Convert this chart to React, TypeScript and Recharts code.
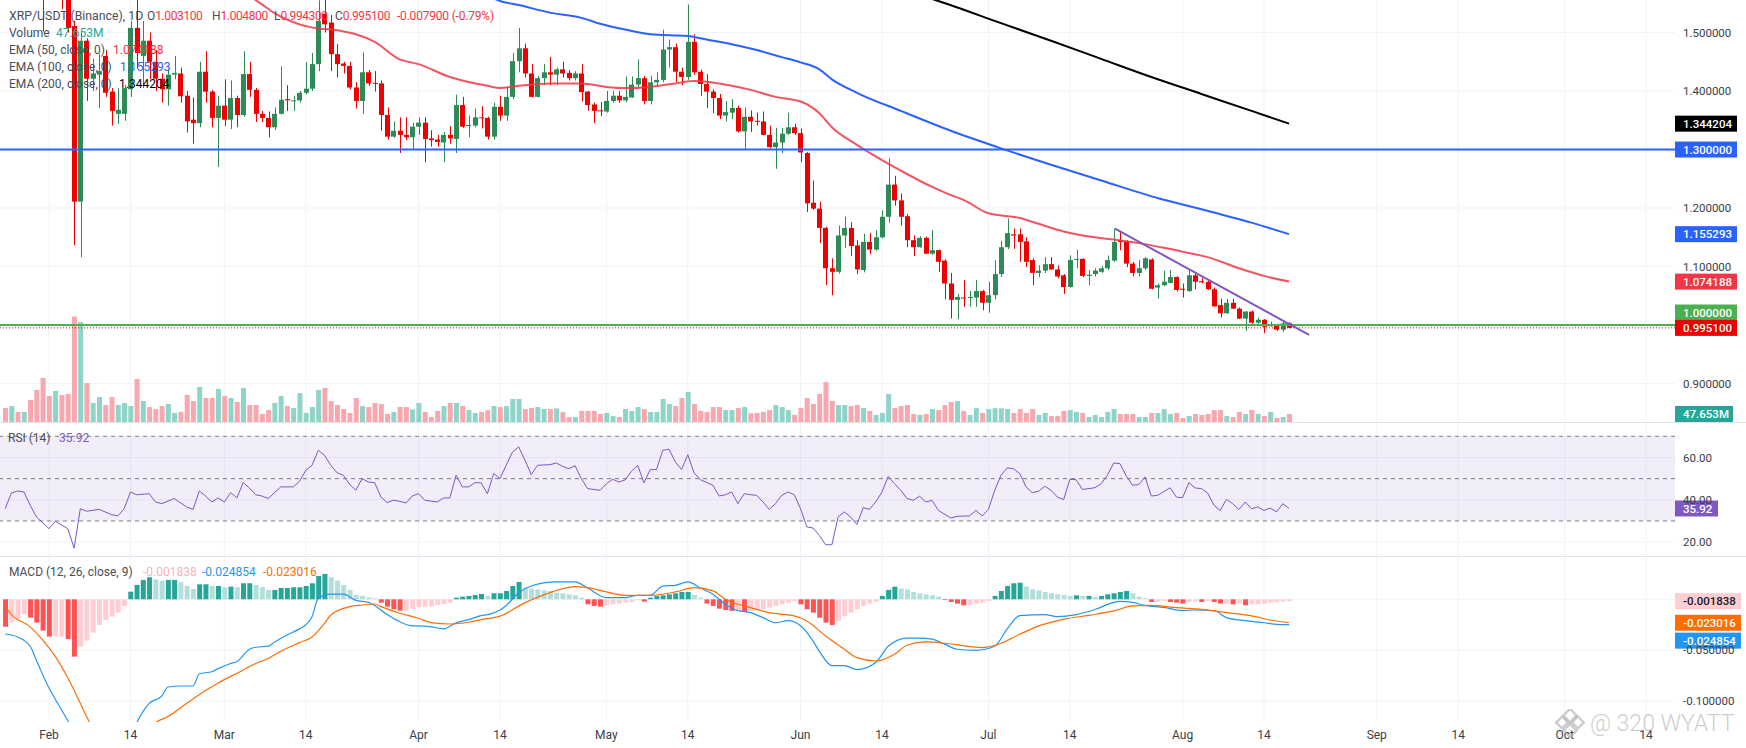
import React from 'react';
import {
  ComposedChart, Bar, Line, XAxis, YAxis, CartesianGrid, ReferenceLine, ReferenceArea, Cell,
} from 'recharts';

// ---------------- data ----------------
const FIRST_DAY = -7; // first candle = 25 Jan, days counted from 1 Feb

const OPEN = [
  1.80, 1.77, 1.81, 1.72, 1.76, 1.68, 1.63, 1.60, 1.58, 1.64, 1.62,
  1.511, 1.211, 1.486, 1.421, 1.428, 1.46, 1.399, 1.361, 1.361, 1.403,
  1.508, 1.46, 1.486, 1.45, 1.421, 1.403, 1.428, 1.43, 1.392, 1.351,
  1.345, 1.433, 1.399, 1.354, 1.375, 1.351, 1.388, 1.359, 1.429, 1.402,
  1.361, 1.354, 1.338, 1.361, 1.386, 1.383, 1.384, 1.397, 1.404, 1.446,
  1.532, 1.517, 1.463, 1.447, 1.443, 1.406, 1.383, 1.432, 1.414, 1.413,
  1.359, 1.322, 1.332, 1.325, 1.321, 1.339, 1.346, 1.319, 1.317, 1.312,
  1.325, 1.318, 1.376, 1.340, 1.341, 1.355, 1.354, 1.322, 1.373, 1.358,
  1.39, 1.451, 1.473, 1.43, 1.39, 1.422, 1.432, 1.428, 1.437, 1.431,
  1.422, 1.43, 1.399, 1.377, 1.367, 1.365, 1.383, 1.392, 1.384, 1.389,
  1.411, 1.422, 1.383, 1.415, 1.419, 1.471, 1.475, 1.433, 1.424, 1.484,
  1.433, 1.412, 1.399, 1.388, 1.358, 1.363, 1.371, 1.331, 1.356, 1.349,
  1.348, 1.325, 1.304, 1.312, 1.327, 1.338, 1.328, 1.294, 1.209, 1.199,
  1.166, 1.097, 1.091, 1.153, 1.166, 1.136, 1.094, 1.142, 1.129, 1.150,
  1.185, 1.240, 1.213, 1.186, 1.145, 1.133, 1.149, 1.122, 1.128, 1.110,
  1.071, 1.043, 1.047, 1.046, 1.047, 1.058, 1.038, 1.051, 1.087, 1.133,
  1.155, 1.155, 1.143, 1.111, 1.089, 1.093, 1.104, 1.095, 1.085, 1.065,
  1.112, 1.113, 1.084, 1.087, 1.091, 1.097, 1.110, 1.145, 1.143, 1.105,
  1.089, 1.097, 1.112, 1.064, 1.068, 1.072, 1.082, 1.062, 1.058, 1.085,
  1.075, 1.074, 1.061, 1.034, 1.020, 1.038, 1.028, 1.011, 1.023, 1.004,
  1.009, 0.998, 1.001, 0.992, 1.0031,
];
const HIGH = [
  1.84, 1.83, 1.82, 1.78, 1.77, 1.70, 1.66, 1.62, 1.66, 1.67, 1.63,
  1.52, 1.50, 1.49, 1.455, 1.463, 1.47, 1.405, 1.405, 1.41, 1.52,
  1.56, 1.52, 1.50, 1.47, 1.43, 1.438, 1.46, 1.44, 1.40, 1.389,
  1.45, 1.468, 1.402, 1.392, 1.42, 1.418, 1.392, 1.468, 1.45, 1.405,
  1.366, 1.365, 1.372, 1.442, 1.41, 1.392, 1.40, 1.449, 1.465, 1.555,
  1.56, 1.53, 1.48, 1.45, 1.45, 1.415, 1.466, 1.436, 1.434, 1.418,
  1.372, 1.348, 1.355, 1.355, 1.346, 1.355, 1.355, 1.333, 1.325, 1.33,
  1.34, 1.394, 1.39, 1.358, 1.37, 1.374, 1.356, 1.38, 1.392, 1.407,
  1.465, 1.508, 1.481, 1.446, 1.426, 1.446, 1.458, 1.44, 1.45, 1.436,
  1.434, 1.446, 1.40, 1.38, 1.381, 1.40, 1.40, 1.40, 1.425, 1.425,
  1.454, 1.426, 1.426, 1.432, 1.505, 1.488, 1.481, 1.44, 1.548, 1.497,
  1.437, 1.429, 1.403, 1.395, 1.383, 1.386, 1.375, 1.372, 1.367, 1.363,
  1.365, 1.341, 1.337, 1.337, 1.363, 1.344, 1.336, 1.296, 1.247, 1.211,
  1.168, 1.114, 1.170, 1.185, 1.176, 1.145, 1.156, 1.157, 1.162, 1.196,
  1.285, 1.255, 1.225, 1.19, 1.153, 1.152, 1.151, 1.162, 1.129, 1.112,
  1.089, 1.053, 1.077, 1.058, 1.077, 1.060, 1.074, 1.111, 1.144, 1.182,
  1.165, 1.165, 1.150, 1.114, 1.102, 1.116, 1.116, 1.102, 1.087, 1.119,
  1.129, 1.114, 1.094, 1.097, 1.101, 1.119, 1.165, 1.159, 1.145, 1.108,
  1.111, 1.116, 1.114, 1.071, 1.093, 1.094, 1.083, 1.071, 1.094, 1.088,
  1.081, 1.077, 1.064, 1.045, 1.045, 1.045, 1.030, 1.024, 1.025, 1.013,
  1.010, 1.006, 1.002, 1.006, 1.0048,
];
const LOW = [
  1.75, 1.74, 1.70, 1.70, 1.66, 1.60, 1.502, 1.565, 1.57, 1.54, 1.50,
  1.136, 1.116, 1.383, 1.40, 1.371, 1.39, 1.341, 1.344, 1.349, 1.39,
  1.438, 1.405, 1.42, 1.40, 1.38, 1.375, 1.42, 1.38, 1.329, 1.31,
  1.338, 1.38, 1.338, 1.27, 1.34, 1.335, 1.338, 1.356, 1.39, 1.347,
  1.347, 1.321, 1.333, 1.36, 1.366, 1.366, 1.38, 1.394, 1.40, 1.434,
  1.50, 1.434, 1.423, 1.43, 1.403, 1.37, 1.361, 1.409, 1.399, 1.332,
  1.317, 1.32, 1.294, 1.316, 1.30, 1.325, 1.278, 1.305, 1.305, 1.278,
  1.31, 1.294, 1.337, 1.321, 1.338, 1.336, 1.317, 1.317, 1.349, 1.349,
  1.386, 1.432, 1.423, 1.389, 1.389, 1.41, 1.41, 1.41, 1.423, 1.418,
  1.418, 1.382, 1.366, 1.345, 1.357, 1.363, 1.38, 1.38, 1.381, 1.388,
  1.406, 1.377, 1.377, 1.41, 1.415, 1.44, 1.415, 1.41, 1.419, 1.428,
  1.392, 1.371, 1.362, 1.352, 1.348, 1.352, 1.329, 1.299, 1.33, 1.341,
  1.324, 1.302, 1.267, 1.294, 1.325, 1.325, 1.278, 1.193, 1.197, 1.140,
  1.068, 1.051, 1.088, 1.132, 1.118, 1.087, 1.090, 1.121, 1.127, 1.148,
  1.175, 1.204, 1.170, 1.133, 1.118, 1.132, 1.121, 1.12, 1.091, 1.044,
  1.011, 1.010, 1.031, 1.031, 1.031, 1.025, 1.021, 1.044, 1.082, 1.130,
  1.130, 1.108, 1.099, 1.068, 1.082, 1.089, 1.094, 1.080, 1.053, 1.064,
  1.097, 1.082, 1.068, 1.083, 1.089, 1.094, 1.108, 1.128, 1.099, 1.083,
  1.083, 1.094, 1.061, 1.045, 1.066, 1.071, 1.057, 1.047, 1.057, 1.061,
  1.071, 1.060, 1.031, 1.013, 1.019, 1.027, 1.010, 0.990, 1.002, 1.002,
  0.986, 0.997, 0.990, 0.988, 0.9943,
];
const CLOSE = [
  1.77, 1.81, 1.72, 1.76, 1.68, 1.63, 1.60, 1.58, 1.64, 1.62, 1.508,
  1.211, 1.486, 1.421, 1.430, 1.434, 1.397, 1.366, 1.368, 1.405, 1.508,
  1.465, 1.486, 1.45, 1.421, 1.403, 1.428, 1.431, 1.391, 1.348, 1.345,
  1.433, 1.399, 1.354, 1.375, 1.351, 1.388, 1.359, 1.429, 1.402, 1.361,
  1.354, 1.338, 1.361, 1.385, 1.384, 1.384, 1.397, 1.404, 1.446, 1.52,
  1.514, 1.463, 1.446, 1.443, 1.406, 1.383, 1.432, 1.413, 1.413, 1.359,
  1.322, 1.332, 1.325, 1.321, 1.339, 1.346, 1.318, 1.316, 1.313, 1.325,
  1.319, 1.376, 1.339, 1.342, 1.355, 1.354, 1.322, 1.373, 1.358, 1.390,
  1.451, 1.473, 1.430, 1.39, 1.422, 1.432, 1.428, 1.437, 1.430, 1.422,
  1.43, 1.398, 1.376, 1.366, 1.366, 1.383, 1.392, 1.384, 1.39, 1.411,
  1.422, 1.383, 1.415, 1.419, 1.471, 1.475, 1.433, 1.424, 1.484, 1.432,
  1.412, 1.399, 1.388, 1.358, 1.364, 1.371, 1.331, 1.356, 1.348, 1.348,
  1.325, 1.304, 1.312, 1.327, 1.338, 1.328, 1.295, 1.208, 1.199, 1.166,
  1.097, 1.091, 1.153, 1.166, 1.135, 1.095, 1.142, 1.129, 1.150, 1.185,
  1.240, 1.213, 1.185, 1.145, 1.133, 1.149, 1.122, 1.128, 1.108, 1.071,
  1.043, 1.048, 1.046, 1.048, 1.058, 1.038, 1.051, 1.087, 1.133, 1.157,
  1.153, 1.142, 1.108, 1.089, 1.093, 1.104, 1.095, 1.083, 1.065, 1.111,
  1.113, 1.084, 1.086, 1.093, 1.097, 1.111, 1.142, 1.142, 1.105, 1.089,
  1.097, 1.114, 1.062, 1.068, 1.074, 1.082, 1.060, 1.061, 1.085, 1.074,
  1.073, 1.061, 1.032, 1.020, 1.038, 1.028, 1.011, 1.023, 1.004, 1.009,
  0.997, 1.001, 0.992, 1.0030, 0.9951,
];
// volume, millions
const VOLUME = [
  83, 95, 60, 60, 131, 191, 262, 155, 185, 161,
  167, 628, 596, 232, 113, 149, 101, 149, 101, 113,
  95, 256, 125, 89, 77, 95, 107, 54, 60, 161,
  125, 209, 143, 143, 197, 155, 143, 119, 203, 101,
  101, 48, 71, 113, 155, 95, 83, 173, 54, 89,
  191, 203, 125, 101, 77, 54, 143, 95, 89, 113,
  107, 48, 60, 89, 89, 75, 113, 60, 30, 66,
  95, 113, 113, 95, 71, 54, 60, 71, 95, 89,
  95, 137, 137, 77, 83, 89, 77, 77, 81, 60,
  30, 30, 66, 66, 66, 48, 54, 36, 30, 77,
  66, 89, 77, 60, 60, 137, 107, 95, 143, 179,
  107, 66, 60, 89, 89, 71, 71, 83, 89, 52,
  54, 60, 71, 101, 89, 71, 42, 83, 143, 107,
  167, 238, 125, 101, 101, 95, 101, 83, 66, 42,
  54, 167, 83, 95, 101, 48, 42, 48, 77, 71,
  101, 119, 125, 66, 42, 83, 54, 77, 83, 81,
  77, 54, 77, 54, 77, 42, 54, 36, 36, 66,
  71, 60, 54, 30, 42, 30, 60, 77, 48, 48,
  48, 30, 30, 54, 54, 77, 48, 54, 24, 36,
  48, 42, 48, 71, 71, 36, 30, 60, 48, 71,
  48, 36, 60, 24, 30, 47.653,
];
// MACD histogram per candle
const HIST = [
  -0.0268, -0.0229, -0.0196, -0.0144, -0.0180, -0.0229, -0.0307, -0.0366, -0.0366, -0.0366,
  -0.0389, -0.0562, -0.0464, -0.0405, -0.0327, -0.0252, -0.0203, -0.0170, -0.0131, -0.0065,
  0.0075, 0.0141, 0.0190, 0.0216, 0.0196, 0.0183, 0.0190, 0.0190, 0.0167, 0.0131,
  0.0101, 0.0147, 0.0147, 0.0131, 0.0131, 0.0118, 0.0124, 0.0118, 0.0157, 0.0157,
  0.0141, 0.0121, 0.0092, 0.0092, 0.0111, 0.0111, 0.0118, 0.0118, 0.0131, 0.0157,
  0.0229, 0.0248, 0.0216, 0.0183, 0.0141, 0.0092, 0.0042, 0.0033, 0.0020, 0.0010,
  -0.0033, -0.0072, -0.0098, -0.0111, -0.0111, -0.0095, -0.0078, -0.0072, -0.0072, -0.0056,
  -0.0046, -0.0033, 0.0016, 0.0026, 0.0033, 0.0042, 0.0052, 0.0033, 0.0059, 0.0059,
  0.0082, 0.0131, 0.0170, 0.0114, 0.0105, 0.0098, 0.0088, 0.0082, 0.0065, 0.0059,
  0.0049, 0.0039, 0.0016, -0.0049, -0.0065, -0.0072, -0.0059, -0.0049, -0.0042, -0.0033,
  -0.0026, -0.0010, -0.0023, 0.0016, 0.0033, 0.0039, 0.0049, 0.0059, 0.0072, 0.0072,
  0.0042, 0.0016, -0.0042, -0.0065, -0.0092, -0.0105, -0.0114, -0.0114, -0.0124, -0.0114,
  -0.0105, -0.0098, -0.0082, -0.0065, -0.0049, -0.0033, -0.0016, -0.0049, -0.0098, -0.0131,
  -0.0180, -0.0229, -0.0252, -0.0212, -0.0163, -0.0131, -0.0098, -0.0065, -0.0042, -0.0023,
  0.0033, 0.0092, 0.0124, 0.0105, 0.0098, 0.0072, 0.0059, 0.0049, 0.0039, 0.0026,
  -0.0007, -0.0026, -0.0042, -0.0059, -0.0056, -0.0042, -0.0033, -0.0016, 0.0033, 0.0082,
  0.0131, 0.0157, 0.0163, 0.0124, 0.0098, 0.0088, 0.0072, 0.0059, 0.0049, 0.0042,
  0.0033, 0.0039, 0.0033, 0.0033, 0.0026, 0.0033, 0.0049, 0.0059, 0.0072, 0.0082,
  0.0059, 0.0026, 0.0010, -0.0026, -0.0026, -0.0016, -0.0026, -0.0033, -0.0042, -0.0026,
  -0.0023, -0.0026, -0.0016, -0.0026, -0.0042, -0.0042, -0.0049, -0.0042, -0.0059, -0.0049,
  -0.0049, -0.0042, -0.0033, -0.0026, -0.0023, -0.001838,
];
// RSI: [candle index, value]
const RSI_POINTS: [number, number][] = [
  [0, 35.8], [1, 43.2], [2, 44.2], [3, 43.7], [4, 37.4], [5, 31.9], [7, 26.4], [8, 29.8], [10, 26.4], [11, 17.2],
  [12, 35.8], [13, 34.6], [15, 35.5], [17, 33.0], [18, 32.4], [19, 35.8], [20, 43.7], [21, 42.4], [23, 42.9], [24, 39.0],
  [25, 38.2], [27, 40.6], [29, 36.6], [30, 35.5], [31, 44.2], [32, 41.8], [33, 39.0], [34, 40.9], [35, 39.0], [36, 43.4],
  [37, 40.9], [38, 48.1], [39, 45.6], [40, 42.4], [41, 41.8], [42, 40.6], [44, 46.1], [46, 46.1], [47, 48.7], [48, 53.9],
  [49, 56.3], [50, 63.4], [51, 61.0], [52, 56.3], [53, 52.8], [54, 51.6], [55, 47.2], [56, 44.6], [57, 50.0], [58, 48.4],
  [59, 48.1], [60, 41.3], [61, 38.7], [62, 39.8], [63, 39.3], [64, 38.5], [65, 41.8], [66, 42.9], [67, 39.8], [69, 39.0],
  [70, 40.9], [71, 40.9], [72, 51.6], [73, 46.1], [74, 46.1], [75, 48.1], [76, 48.0], [77, 42.9], [78, 52.4], [79, 50.0],
  [80, 56.3], [81, 62.6], [82, 65.0], [83, 58.7], [84, 51.9], [85, 56.3], [87, 56.6], [88, 57.4], [89, 55.8], [90, 54.7],
  [91, 56.1], [92, 50.0], [93, 45.3], [95, 44.5], [96, 47.6], [97, 49.7], [98, 48.4], [99, 49.4], [100, 53.5], [101, 56.3],
  [102, 48.0], [103, 54.3], [104, 54.3], [105, 63.4], [106, 63.9], [107, 57.9], [108, 54.3], [109, 61.3], [110, 52.7], [111, 49.5],
  [113, 46.9], [114, 41.8], [115, 42.4], [116, 43.7], [117, 38.2], [118, 42.9], [119, 42.4], [120, 42.1], [121, 39.0], [122, 35.5],
  [123, 38.2], [124, 42.1], [125, 43.7], [126, 42.4], [127, 35.8], [128, 27.2], [129, 26.7], [130, 23.2], [131, 18.8], [132, 18.8],
  [133, 31.9], [134, 34.3], [135, 31.9], [136, 28.3], [137, 36.3], [138, 35.5], [139, 39.0], [140, 43.7], [141, 51.1], [142, 47.6],
  [143, 44.5], [144, 40.6], [145, 39.8], [146, 41.7], [147, 39.0], [148, 39.8], [149, 35.0], [151, 31.4], [152, 32.2], [154, 32.4],
  [155, 35.0], [156, 32.4], [157, 35.5], [158, 44.5], [159, 51.6], [160, 55.1], [161, 54.7], [162, 52.4], [163, 46.1], [164, 43.4],
  [165, 44.0], [166, 46.4], [167, 44.5], [168, 41.3], [169, 40.1], [170, 49.7], [171, 49.5], [172, 44.9], [174, 45.7], [175, 47.6],
  [176, 51.6], [177, 57.4], [178, 57.1], [179, 51.3], [180, 46.9], [181, 47.2], [182, 50.8], [183, 41.8], [184, 42.1], [186, 45.7],
  [187, 41.3], [188, 41.0], [189, 48.1], [190, 45.6], [191, 45.3], [192, 43.2], [193, 37.4], [194, 35.0], [195, 40.2], [196, 38.2],
  [197, 35.4], [198, 39.0], [199, 35.8], [200, 36.6], [201, 35.0], [202, 36.1], [203, 34.3], [204, 38.2], [205, 35.92],
];
// [day from 1 Feb, value]
const EMA50_POINTS: [number, number][] = [
  [29, 1.585], [34, 1.548], [36, 1.533], [40, 1.514], [43, 1.507], [46, 1.504], [49, 1.497], [52, 1.484], [56, 1.454], [59, 1.446],
  [64, 1.424], [70, 1.409], [72, 1.405], [75, 1.409], [80, 1.413], [85, 1.413], [89, 1.407], [92, 1.405], [96, 1.407], [100, 1.413],
  [103, 1.417], [105, 1.416], [109, 1.409], [112, 1.402], [116, 1.390], [120, 1.382], [123, 1.362], [125, 1.338], [129, 1.308], [133, 1.282],
  [136, 1.264], [141, 1.236], [144, 1.222], [146, 1.214], [150, 1.191], [155, 1.183], [158, 1.173], [162, 1.160], [167, 1.150], [170, 1.146],
  [174, 1.140], [178, 1.132], [182, 1.123], [185, 1.116], [190, 1.097], [194, 1.084], [198, 1.074188],
];
const EMA100_POINTS: [number, number][] = [
  [68, 1.575], [72, 1.554], [75, 1.547], [80, 1.534], [85, 1.525], [88, 1.515], [92, 1.505], [96, 1.497], [102, 1.494], [105, 1.488],
  [109, 1.480], [113, 1.470], [117, 1.458], [120, 1.449], [123, 1.437], [125, 1.420], [129, 1.397], [136, 1.366], [144, 1.332], [152, 1.302],
  [160, 1.274], [168, 1.247], [178, 1.214], [184, 1.198], [192, 1.175], [198, 1.155293],
];
const EMA200_POINTS: [number, number][] = [
  [130, 1.59], [142, 1.554], [152, 1.516], [160, 1.486], [168, 1.455], [176, 1.424], [184, 1.395], [192, 1.366], [198, 1.344204],
];
const MACD_POINTS: [number, number][] = [
  [-7, -0.034], [-5, -0.037], [-3, -0.046], [-2, -0.060], [0, -0.087], [1, -0.098], [3, -0.119], [5, -0.142], [7, -0.160], [9, -0.168],
  [11, -0.160], [13, -0.135], [14, -0.121], [16, -0.102], [18, -0.095], [19, -0.086], [21, -0.085], [23, -0.085], [24, -0.073], [26, -0.071],
  [27, -0.068], [29, -0.063], [30, -0.061], [32, -0.049], [33, -0.047], [35, -0.046], [36, -0.042], [38, -0.035], [40, -0.029], [41, -0.025],
  [42, -0.017], [43, 0.001], [45, 0.005], [47, 0.005], [49, -0.001], [51, -0.003], [52, -0.006], [54, -0.015], [56, -0.022], [58, -0.026],
  [59, -0.026], [61, -0.027], [63, -0.029], [65, -0.023], [67, -0.020], [69, -0.016], [70, -0.015], [72, -0.0105], [73, -0.006], [75, 0.0065],
  [77, 0.013], [81, 0.017], [84, 0.017], [86, 0.011], [89, 0.0016], [92, 0.0016], [94, 0.0039], [96, 0.0039], [98, 0.013], [100, 0.0137],
  [102, 0.017], [104, 0.011], [106, 0.005], [108, -0.005], [110, -0.011], [112, -0.013], [114, -0.018], [116, -0.023], [118, -0.021], [120, -0.026],
  [122, -0.041], [123, -0.051], [125, -0.065], [127, -0.065], [129, -0.069], [132, -0.062], [134, -0.046], [137, -0.038], [139, -0.038], [141, -0.039],
  [143, -0.044], [145, -0.049], [148, -0.050], [151, -0.046], [153, -0.029], [155, -0.016], [159, -0.015], [161, -0.017], [164, -0.015], [167, -0.010],
  [170, -0.003], [171, -0.002], [173, -0.003], [175, -0.006], [178, -0.008], [181, -0.011], [183, -0.0105], [186, -0.011], [188, -0.018], [191, -0.021],
  [194, -0.023], [196, -0.0245], [198, -0.024854],
];
const SIGNAL_POINTS: [number, number][] = [
  [-7, -0.007], [-6, -0.015], [-3, -0.027], [-1, -0.040], [1, -0.056], [3, -0.077], [5, -0.102], [6, -0.115], [8, -0.137], [10, -0.148],
  [12, -0.148], [14, -0.140], [16, -0.127], [17, -0.121], [19, -0.115], [22, -0.102], [25, -0.0895], [27, -0.082], [30, -0.0725], [33, -0.063],
  [35, -0.058], [37, -0.051], [40, -0.0425], [42, -0.037], [44, -0.0235], [45, -0.0154], [48, -0.0072], [50, -0.0056], [52, -0.0046], [53, -0.0072],
  [56, -0.0137], [59, -0.0186], [61, -0.0229], [64, -0.0242], [67, -0.0225], [69, -0.020], [72, -0.0165], [76, -0.0033], [80, 0.0065], [84, 0.0124],
  [86, 0.0114], [89, 0.0072], [92, 0.0039], [96, 0.0039], [100, 0.0072], [103, 0.0114], [106, 0.0082], [108, 0.0], [112, -0.0082], [115, -0.0131],
  [119, -0.0163], [121, -0.0212], [124, -0.0359], [127, -0.049], [129, -0.0572], [132, -0.0605], [135, -0.0539], [137, -0.0451], [140, -0.0418], [143, -0.0431],
  [147, -0.0464], [149, -0.0474], [152, -0.0431], [155, -0.0343], [158, -0.0261], [162, -0.0196], [166, -0.0157], [170, -0.0114], [173, -0.0065], [176, -0.0059],
  [180, -0.0082], [184, -0.0098], [188, -0.0131], [192, -0.0163], [195, -0.0203], [198, -0.023016],
];
const TREND_START: [number, number] = [170.2, 1.1647];
const TREND_END: [number, number] = [201.2, 0.983];
const LEVEL_BLUE = 1.3;
const LEVEL_GREEN = 1.0;

const TICK_DAYS = [0, 13, 28, 41, 59, 72, 89, 102, 120, 133, 150, 163, 181, 194, 212, 225, 242, 255];
const TICK_LABELS = ['Feb', '14', 'Mar', '14', 'Apr', '14', 'May', '14', 'Jun', '14', 'Jul', '14', 'Aug', '14', 'Sep', '14', 'Oct', '14'];
const PRICE_GRID = [0.9, 1.0, 1.1, 1.2, 1.3, 1.4, 1.5];
const PRICE_TICKS = [0.9, 1.1, 1.2, 1.4, 1.5];
const RSI_TICKS = [20, 40, 60];
const MACD_GRID = [-0.1, -0.05, 0];
const MACD_TICKS = [-0.1, -0.05];

// ---------------- styling ----------------
const W = 1746;
const AXIS_W = 71;
const X_DOMAIN: [number, number] = [-7.824, 259.62];
const PRICE_DOMAIN: [number, number] = [0.8342, 1.5556];
const VOL_DOMAIN: [number, number] = [0, 2513];
const RSI_DOMAIN: [number, number] = [13.47, 76.75];
const MACD_DOMAIN: [number, number] = [-0.1203, 0.04245];
const UP = '#2e8b57';
const DOWN = '#ee0000';
const VOL_UP = '#8fd4c9';
const VOL_DOWN = '#f8a7ae';
const GRID = '#f0f3fa';
const TEXT = '#3a3d46';
const FONT = 'Roboto, "Noto Sans", "DejaVu Sans", sans-serif';

// ---------------- rows ----------------
type Row = {
  t: number; o: number; h: number; l: number; c: number; vol: number; hist: number;
  rsi?: number; ema50?: number; ema100?: number; ema200?: number; macd?: number; signal?: number;
};
const rows: Row[] = OPEN.map((o, i) => ({
  t: FIRST_DAY + i, o, h: HIGH[i], l: LOW[i], c: CLOSE[i], vol: VOLUME[i], hist: HIST[i],
}));
const byDay = new Map<number, Row>(rows.map((r) => [r.t, r]));
const put = (pts: [number, number][], key: keyof Row) => {
  pts.forEach(([d, v]) => {
    const r = byDay.get(d);
    if (r) (r as any)[key] = v;
  });
};
put(EMA50_POINTS, 'ema50');
put(EMA100_POINTS, 'ema100');
put(EMA200_POINTS, 'ema200');
put(MACD_POINTS, 'macd');
put(SIGNAL_POINTS, 'signal');
RSI_POINTS.forEach(([i, v]) => { if (rows[i]) rows[i].rsi = v; });

const N = rows.length;
const last = rows[N - 1];
const prevClose = rows[N - 2].c;
const change = last.c - prevClose;
const changePct = (change / prevClose) * 100;
const lastEma50 = EMA50_POINTS[EMA50_POINTS.length - 1][1];
const lastEma100 = EMA100_POINTS[EMA100_POINTS.length - 1][1];
const lastEma200 = EMA200_POINTS[EMA200_POINTS.length - 1][1];
const lastRsi = RSI_POINTS[RSI_POINTS.length - 1][1];
const lastMacd = MACD_POINTS[MACD_POINTS.length - 1][1];
const lastSignal = SIGNAL_POINTS[SIGNAL_POINTS.length - 1][1];
const lastHist = HIST[HIST.length - 1];
const lastVol = VOLUME[VOLUME.length - 1];

const histColor = (i: number) => {
  const v = HIST[i];
  const p = i > 0 ? HIST[i - 1] : 0;
  if (v >= 0) return v >= p ? '#26a69a' : '#b2dfdb';
  return v < p ? '#ff5252' : '#ffcdd2';
};

// ---------------- shapes ----------------
const Candle = (props: any) => {
  const { x, y, width, height, index } = props;
  const r: Row | undefined = props.payload && props.payload.o != null ? props.payload : rows[index];
  if (!r || x == null || y == null) return null;
  const color = r.c >= r.o ? UP : DOWN;
  const hPx = Math.abs(height || 0);
  const top = Math.min(y, y + (height || 0));
  const range = r.h - r.l;
  const k = range > 0 ? hPx / range : 0;
  const bodyTop = top + (r.h - Math.max(r.o, r.c)) * k;
  const bodyH = Math.max(1, Math.abs(r.o - r.c) * k);
  const cx = Math.round(x + width / 2) + 0.5;
  return (
    <g>
      <line x1={cx} x2={cx} y1={top} y2={top + hPx} stroke={color} strokeWidth={1} />
      <rect x={Math.round(x)} y={bodyTop} width={Math.round(width)} height={bodyH} fill={color} />
    </g>
  );
};

function badge(text: string, bg: string, fg: string, w: number, dy = 0) {
  return (props: any) => {
    const vb = (props && props.viewBox) || {};
    const x = (vb.x || 0) + (vb.width || 0);
    const y = (vb.y || 0) + dy;
    return (
      <g>
        <rect x={x} y={y - 8} width={w} height={16} fill={bg} />
        <text x={x + 8} y={y + 4.2} fill={fg} fontSize={11.5} fontWeight={500} style={{ fontFamily: FONT }}>
          {text}
        </text>
      </g>
    );
  };
}

const axisTick = { fill: TEXT, fontSize: 11.5 };

// ---------------- panes ----------------
const PricePane = () => (
  <ComposedChart width={W} height={422} data={rows} margin={{ top: 0, right: 0, bottom: 0, left: 0 }}>
    <CartesianGrid xAxisId="x" yAxisId="price" stroke={GRID} verticalValues={TICK_DAYS} horizontalValues={PRICE_GRID} />
    <XAxis xAxisId="x" dataKey="t" type="number" domain={X_DOMAIN} allowDataOverflow ticks={TICK_DAYS} hide />
    <XAxis xAxisId="xv" dataKey="t" type="number" domain={X_DOMAIN} allowDataOverflow hide />
    <YAxis
      yAxisId="price" orientation="right" width={AXIS_W} domain={PRICE_DOMAIN} allowDataOverflow
      ticks={PRICE_TICKS} interval={0} tickFormatter={(v: number) => v.toFixed(6)}
      axisLine={false} tickLine={false} tick={axisTick}
    />
    <YAxis yAxisId="vol" hide domain={VOL_DOMAIN} allowDataOverflow />
    <Bar xAxisId="xv" yAxisId="vol" dataKey="vol" barSize={5} isAnimationActive={false}>
      {rows.map((r, i) => <Cell key={i} fill={r.c >= r.o ? VOL_UP : VOL_DOWN} />)}
    </Bar>
    <Bar
      xAxisId="x" yAxisId="price" dataKey={(r: Row) => [r.l, r.h]} barSize={5}
      shape={Candle} isAnimationActive={false}
    />
    <Line xAxisId="x" yAxisId="price" dataKey="ema200" type="monotone" stroke="#000000" strokeWidth={2} dot={false} connectNulls isAnimationActive={false} />
    <Line xAxisId="x" yAxisId="price" dataKey="ema100" type="monotone" stroke="#2962ff" strokeWidth={2} dot={false} connectNulls isAnimationActive={false} />
    <Line xAxisId="x" yAxisId="price" dataKey="ema50" type="monotone" stroke="#f23645" strokeOpacity={0.85} strokeWidth={2} dot={false} connectNulls isAnimationActive={false} />
    <ReferenceLine xAxisId="x" yAxisId="price" y={LEVEL_BLUE} stroke="#2962ff" strokeWidth={2}
      label={badge(LEVEL_BLUE.toFixed(6), '#2962ff', '#ffffff', 62)} />
    <ReferenceLine xAxisId="x" yAxisId="price" y={LEVEL_GREEN} stroke="#4caf50" strokeWidth={2}
      label={badge(LEVEL_GREEN.toFixed(6), '#4caf50', '#ffffff', 62, -12.5)} />
    <ReferenceLine xAxisId="x" yAxisId="price" y={last.c} stroke={DOWN} strokeWidth={1} strokeDasharray="1 2"
      label={badge(last.c.toFixed(6), DOWN, '#ffffff', 62)} />
    <ReferenceLine xAxisId="x" yAxisId="price"
      segment={[{ x: TREND_START[0], y: TREND_START[1] }, { x: TREND_END[0], y: TREND_END[1] }]}
      stroke="#7e57c2" strokeWidth={2} />
    <ReferenceLine xAxisId="x" yAxisId="price" y={lastEma200} stroke="none"
      label={badge(lastEma200.toFixed(6), '#000000', '#ffffff', 62)} />
    <ReferenceLine xAxisId="x" yAxisId="price" y={lastEma100} stroke="none"
      label={badge(lastEma100.toFixed(6), '#2962ff', '#ffffff', 62)} />
    <ReferenceLine xAxisId="x" yAxisId="price" y={lastEma50} stroke="none"
      label={badge(lastEma50.toFixed(6), '#f23645', '#ffffff', 62)} />
    <ReferenceLine xAxisId="xv" yAxisId="vol" y={lastVol} stroke="none"
      label={badge(lastVol.toFixed(3) + 'M', '#26a69a', '#ffffff', 58)} />
  </ComposedChart>
);

const RsiPane = () => (
  <ComposedChart width={W} height={134} data={rows} margin={{ top: 0, right: 0, bottom: 0, left: 0 }}>
    <CartesianGrid xAxisId="x" yAxisId="r" stroke={GRID} verticalValues={TICK_DAYS} horizontalValues={RSI_TICKS} />
    <XAxis xAxisId="x" dataKey="t" type="number" domain={X_DOMAIN} allowDataOverflow ticks={TICK_DAYS} hide />
    <YAxis
      yAxisId="r" orientation="right" width={AXIS_W} domain={RSI_DOMAIN} allowDataOverflow
      ticks={RSI_TICKS} interval={0} tickFormatter={(v: number) => v.toFixed(2)}
      axisLine={false} tickLine={false} tick={axisTick}
    />
    <ReferenceArea xAxisId="x" yAxisId="r" y1={30} y2={70} fill="#7e57c2" fillOpacity={0.1} stroke="none" />
    <ReferenceLine xAxisId="x" yAxisId="r" y={70} stroke="#787b86" strokeDasharray="4 4" />
    <ReferenceLine xAxisId="x" yAxisId="r" y={50} stroke="#787b86" strokeDasharray="4 4" />
    <ReferenceLine xAxisId="x" yAxisId="r" y={30} stroke="#787b86" strokeDasharray="4 4" />
    <Line xAxisId="x" yAxisId="r" dataKey="rsi" type="linear" stroke="#7e57c2" strokeWidth={1} dot={false} connectNulls isAnimationActive={false} />
    <ReferenceLine xAxisId="x" yAxisId="r" y={lastRsi} stroke="none"
      label={badge(lastRsi.toFixed(2), '#7e57c2', '#ffffff', 43)} />
  </ComposedChart>
);

const MacdPane = () => (
  <ComposedChart width={W} height={192} data={rows} margin={{ top: 0, right: 0, bottom: 0, left: 0 }}>
    <CartesianGrid xAxisId="x" yAxisId="m" stroke={GRID} verticalValues={TICK_DAYS} horizontalValues={MACD_GRID} />
    <XAxis
      xAxisId="x" dataKey="t" type="number" domain={X_DOMAIN} allowDataOverflow ticks={TICK_DAYS} interval={0}
      tickFormatter={(v: number) => TICK_LABELS[TICK_DAYS.indexOf(v)] ?? ''}
      height={26} axisLine={false} tickLine={false} tick={{ fill: TEXT, fontSize: 12 }}
    />
    <YAxis
      yAxisId="m" orientation="right" width={AXIS_W} domain={MACD_DOMAIN} allowDataOverflow
      ticks={MACD_TICKS} interval={0} tickFormatter={(v: number) => v.toFixed(6)}
      axisLine={false} tickLine={false} tick={axisTick}
    />
    <Bar xAxisId="x" yAxisId="m" dataKey="hist" barSize={5} isAnimationActive={false}>
      {rows.map((_, i) => <Cell key={i} fill={histColor(i)} />)}
    </Bar>
    <Line xAxisId="x" yAxisId="m" dataKey="macd" type="monotone" stroke="#2196f3" strokeWidth={1.2} dot={false} connectNulls isAnimationActive={false} />
    <Line xAxisId="x" yAxisId="m" dataKey="signal" type="monotone" stroke="#ff6d00" strokeWidth={1.2} dot={false} connectNulls isAnimationActive={false} />
    <ReferenceLine xAxisId="x" yAxisId="m" y={lastHist} stroke="none"
      label={badge(lastHist.toFixed(6), '#ffcdd2', '#131722', 66)} />
    <ReferenceLine xAxisId="x" yAxisId="m" y={lastSignal} stroke="none"
      label={badge(lastSignal.toFixed(6), '#ff6d00', '#ffffff', 66)} />
    <ReferenceLine xAxisId="x" yAxisId="m" y={lastMacd} stroke="none"
      label={badge(lastMacd.toFixed(6), '#2196f3', '#ffffff', 66, 16)} />
  </ComposedChart>
);

// ---------------- legend overlays ----------------
const abs = (left: number, top: number, extra: React.CSSProperties = {}): React.CSSProperties => ({
  position: 'absolute', left, top, whiteSpace: 'nowrap', lineHeight: '17px', ...extra,
});
const RED = '#f23645';
const LABEL = '#4a4d57';
const NUM: React.CSSProperties = { color: RED, letterSpacing: '-0.4px' };

const Legend = () => (
  <div style={{ position: 'absolute', left: 0, top: 0, fontSize: 12, color: LABEL, pointerEvents: 'none' }}>
    <span style={abs(9, 7.5, { fontSize: 12.3 })}>XRP/USDT (Binance), 1D</span>
    <span style={abs(147, 7.5)}>O<span style={NUM}>{last.o.toFixed(6)}</span></span>
    <span style={abs(212, 7.5)}>H<span style={NUM}>{last.h.toFixed(6)}</span></span>
    <span style={abs(274, 7.5)}>L<span style={NUM}>{last.l.toFixed(6)}</span></span>
    <span style={abs(335, 7.5)}>C<span style={NUM}>{last.c.toFixed(6)}</span></span>
    <span style={abs(397, 7.5, { color: RED, letterSpacing: '-0.2px' })}>{change.toFixed(6)} ({changePct.toFixed(2)}%)</span>

    <span style={abs(9, 24.5)}>Volume</span>
    <span style={abs(56, 24.5, { color: '#26a69a' })}>{lastVol.toFixed(3)}M</span>

    <span style={abs(9, 41.5)}>EMA (50, close, 0)</span>
    <span style={abs(113, 41.5, { color: RED })}>{lastEma50.toFixed(6)}</span>

    <span style={abs(9, 58.5)}>EMA (100, close, 0)</span>
    <span style={abs(120, 58.5, { color: '#2962ff' })}>{lastEma100.toFixed(6)}</span>

    <span style={abs(9, 75.5)}>EMA (200, close, 0)</span>
    <span style={abs(119, 75.5, { color: '#000000' })}>{lastEma200.toFixed(6)}</span>

    <span style={abs(8, 429.5)}>RSI (14)</span>
    <span style={abs(59, 429.5, { color: '#7e57c2' })}>{lastRsi.toFixed(2)}</span>

    <span style={abs(9, 563.5)}>MACD (12, 26, close, 9)</span>
    <span style={abs(143, 563.5, { color: '#f5b5ba' })}>{lastHist.toFixed(6)}</span>
    <span style={abs(202, 563.5, { color: '#2196f3' })}>{lastMacd.toFixed(6)}</span>
    <span style={abs(263, 563.5, { color: '#ff6d00' })}>{lastSignal.toFixed(6)}</span>
  </div>
);

const Watermark = () => (
  <div style={{
    position: 'absolute', left: 1555, top: 709, display: 'flex', alignItems: 'center',
    color: 'rgba(160,160,160,0.55)', fontSize: 23, fontWeight: 300, pointerEvents: 'none', whiteSpace: 'nowrap',
  }}>
    <svg width={30} height={28} viewBox="0 0 32 30" style={{ marginRight: 5 }}>
      <g fill="none" stroke="rgba(160,160,160,0.55)" strokeWidth={2.5}>
        <rect x={11} y={2} width={10} height={10} transform="rotate(45 16 7)" />
        <rect x={3} y={10} width={9} height={9} transform="rotate(45 7.5 14.5)" />
        <rect x={20} y={10} width={9} height={9} transform="rotate(45 24.5 14.5)" />
        <rect x={11} y={18} width={10} height={10} transform="rotate(45 16 23)" />
      </g>
    </svg>
    <span>@ 320 WYATT</span>
  </div>
);

export default function App() {
  if (typeof document !== 'undefined') document.body.style.margin = '0';
  return (
    <div style={{
      position: 'absolute', left: 0, top: 0, width: W, height: 748, background: '#ffffff',
      fontFamily: FONT, overflow: 'hidden',
    }}>
      <div style={{ position: 'absolute', left: 0, top: 0 }}><PricePane /></div>
      <div style={{ position: 'absolute', left: 0, top: 422 }}><RsiPane /></div>
      <div style={{ position: 'absolute', left: 0, top: 556 }}><MacdPane /></div>
      <div style={{ position: 'absolute', left: 0, top: 422, width: W, height: 1, background: '#e0e3eb' }} />
      <div style={{ position: 'absolute', left: 0, top: 556, width: W, height: 1, background: '#e0e3eb' }} />
      <Legend />
      <Watermark />
    </div>
  );
}
